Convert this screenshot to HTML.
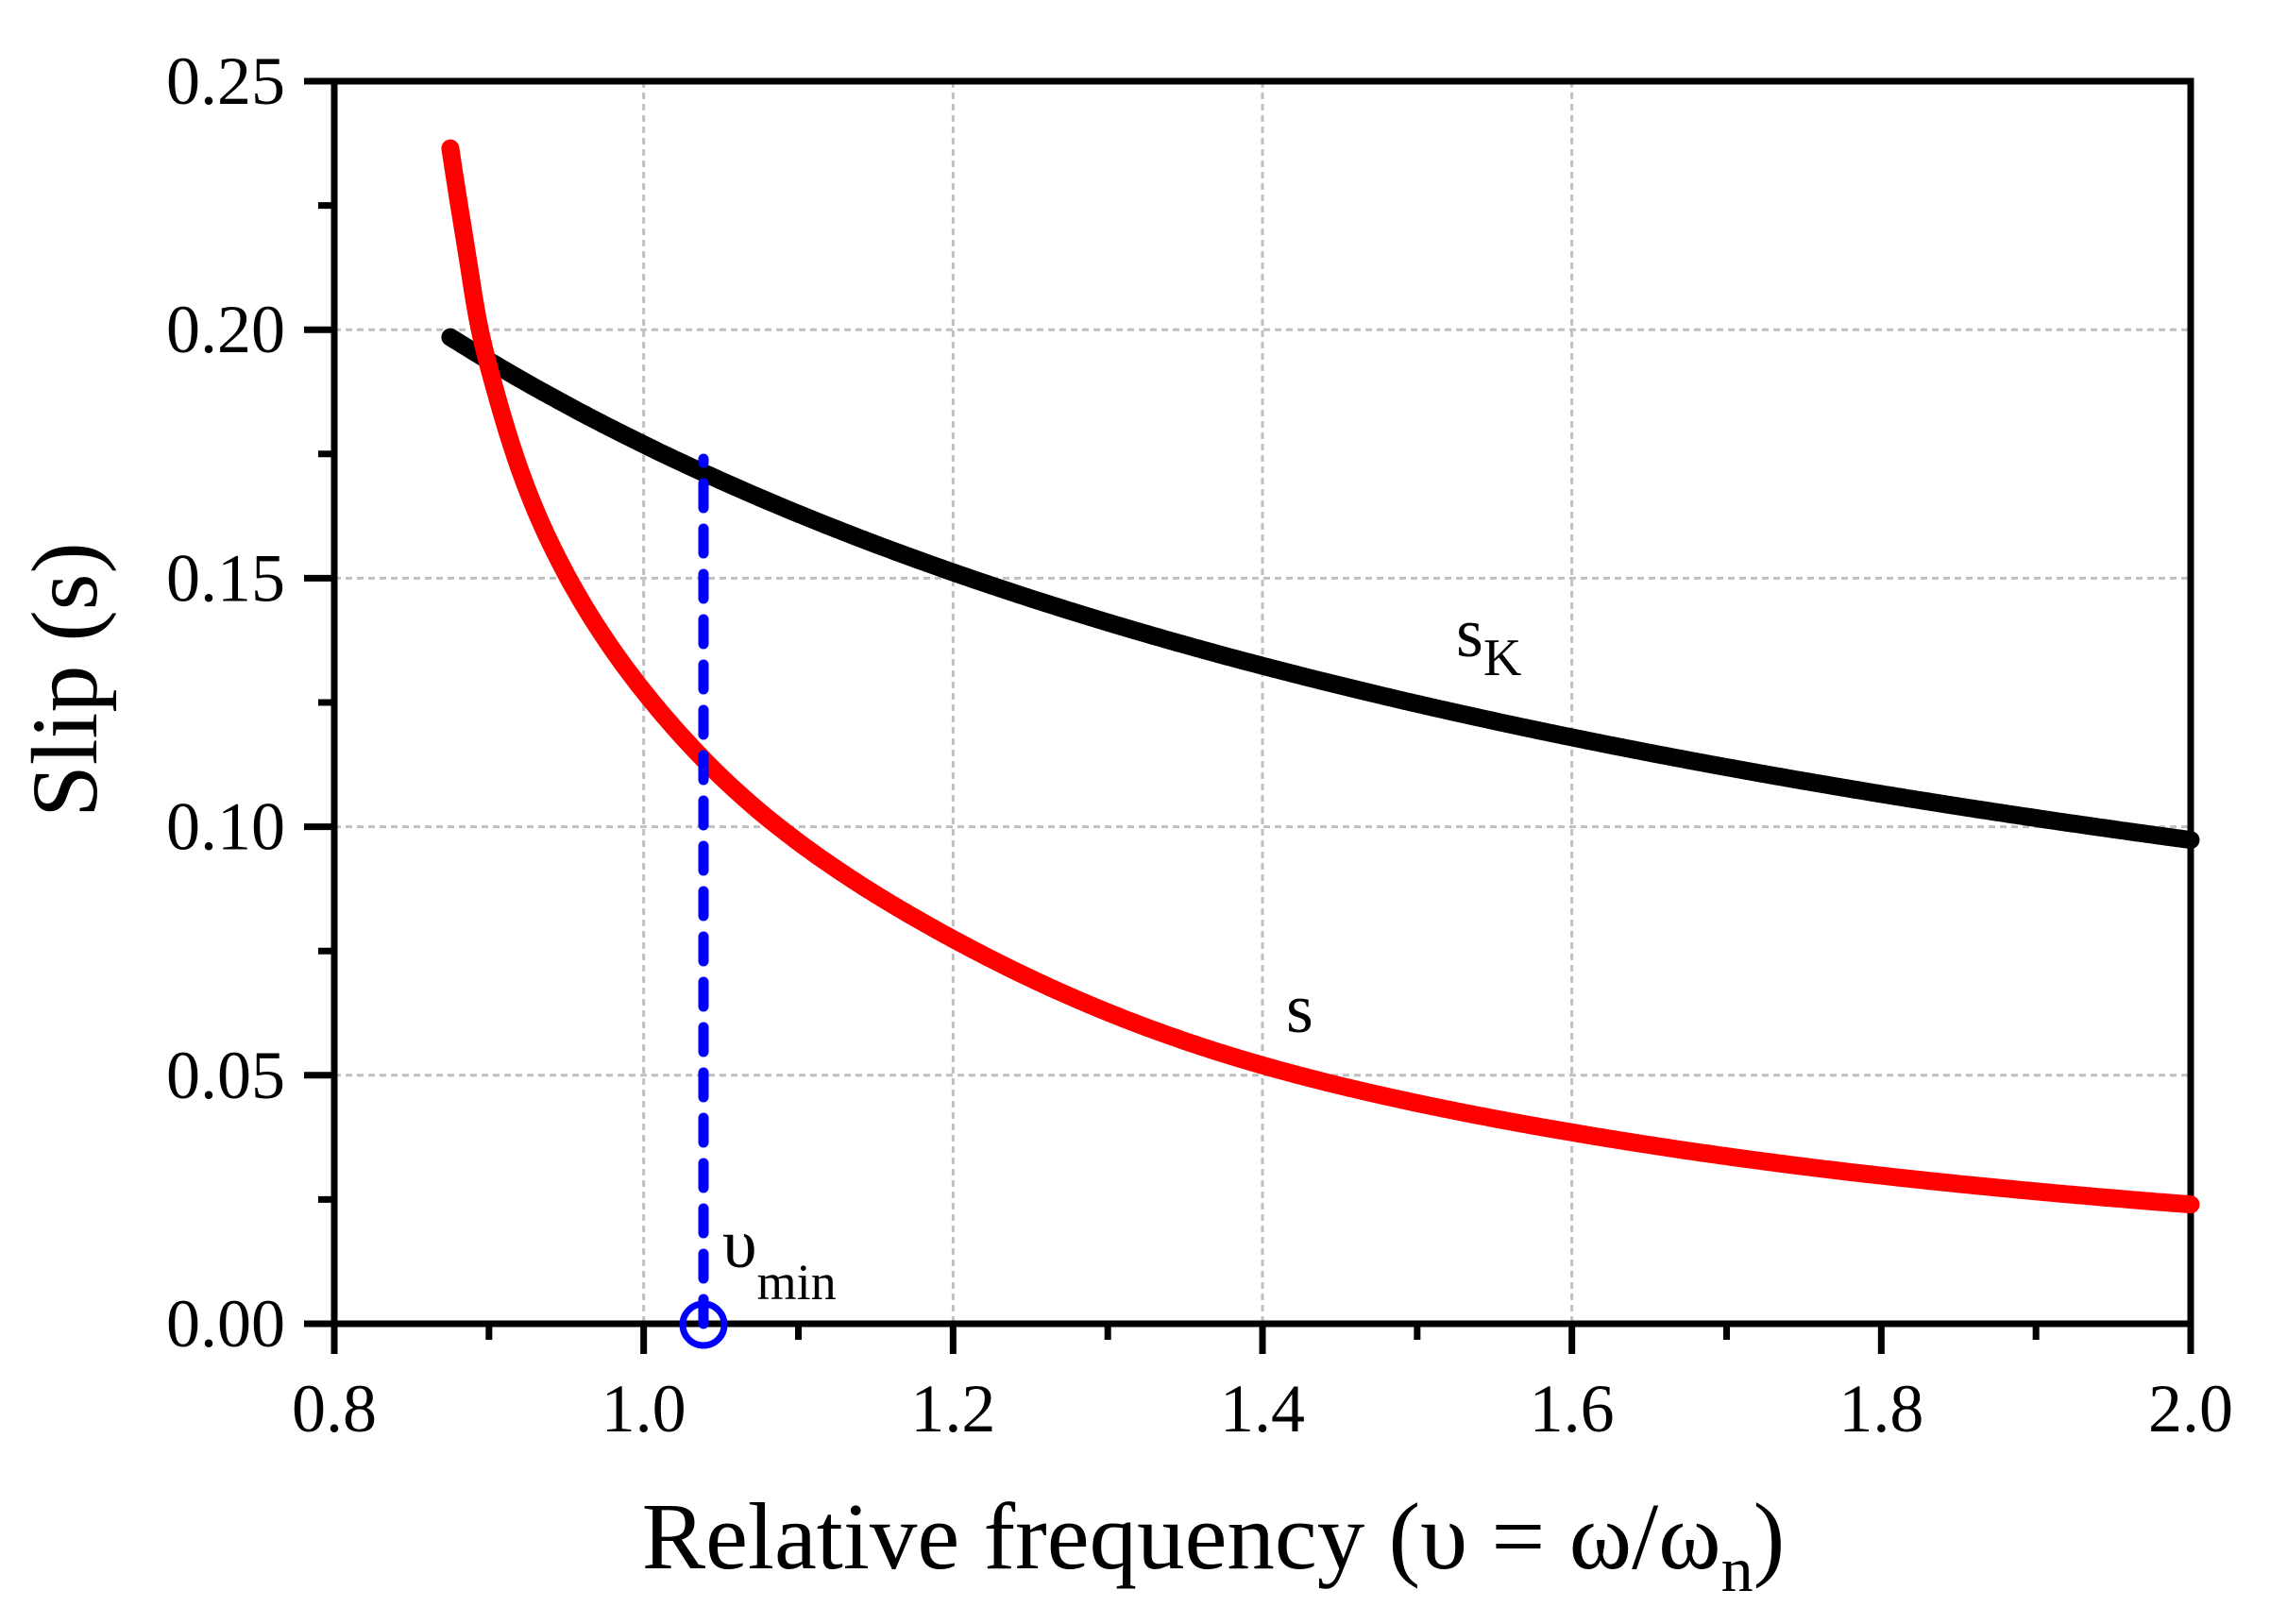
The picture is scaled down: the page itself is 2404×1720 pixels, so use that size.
<!DOCTYPE html>
<html><head><meta charset="utf-8"><style>
html,body{margin:0;padding:0;background:#fff;}
svg{display:block;}
text{font-family:"Liberation Serif",serif;fill:#000;}
</style></head><body>
<svg id="s" width="2404" height="1720" viewBox="0 0 2404 1720" xmlns="http://www.w3.org/2000/svg">
<g id="grid" stroke="#c0c0c0" stroke-width="3" stroke-dasharray="7,5"></g>
<g id="ticks" stroke="#000" stroke-width="7"></g>
<rect x="354" y="86" width="1966" height="1316" fill="none" stroke="#000" stroke-width="7"/>
<path id="black" fill="none" stroke="#000" stroke-width="19" stroke-linecap="round" stroke-linejoin="round"/>
<path id="red" fill="none" stroke="#ff0000" stroke-width="19" stroke-linecap="round" stroke-linejoin="round"/>
<line x1="745" y1="1402" x2="745" y2="486" stroke="#0000ff" stroke-width="11" stroke-dasharray="26,22" stroke-linecap="round"/>
<circle cx="745" cy="1403" r="22" fill="none" stroke="#0000ff" stroke-width="7"/>
<g id="labels" font-size="72"></g>
<text x="1542" y="695" font-size="74">s<tspan font-size="56" dy="20">K</tspan></text>
<text x="1362" y="1093" font-size="74">s</text>
<text x="765" y="1342" font-size="74">υ<tspan font-size="54" dy="34">min</tspan></text>
<text x="1285" y="1661" font-size="101" text-anchor="middle">Relative frequency (υ = ω/ω<tspan font-size="68" dy="24">n</tspan><tspan dy="-24">)</tspan></text>
<text transform="translate(102,720) rotate(-90)" font-size="100" text-anchor="middle">Slip (s)</text>
</svg>
<script>
var NS="http://www.w3.org/2000/svg";
function X(v){return 354+(v-0.8)/1.2*1966;}
function Y(s){return 1402-s/0.25*1316;}
function el(p,t,a,txt){var e=document.createElementNS(NS,t);for(var k in a)e.setAttribute(k,a[k]);if(txt!==undefined)e.textContent=txt;document.getElementById(p).appendChild(e);}
for(var i=1;i<=4;i++){var v=0.8+0.2*i;el("grid","line",{x1:X(v),x2:X(v),y1:86,y2:1402});}
for(var i=1;i<=4;i++){var s=0.05*i;el("grid","line",{x1:354,x2:2320,y1:Y(s),y2:Y(s)});}
for(var i=0;i<=12;i++){var v=0.8+0.1*i;var L=(i%2==0)?32:17;el("ticks","line",{x1:X(v),x2:X(v),y1:1402,y2:1402+L});
 if(i%2==0)el("labels","text",{x:X(v),y:1516,"text-anchor":"middle"},v.toFixed(1));}
for(var i=0;i<=10;i++){var s=0.025*i;var L=(i%2==0)?32:17;el("ticks","line",{x1:354-L,x2:354,y1:Y(s),y2:Y(s)});
 if(i%2==0)el("labels","text",{x:302,y:Y(s)+24,"text-anchor":"end"},s.toFixed(2));}
var pts=[[0.875,.2365],[0.885,.2168],[0.8935,.2009],[0.9038,.1881],[0.9208,.1711],[0.941,.1562],[1.037,.1141],[1.2,.0774],[1.4,.052],[1.6,.0385],[1.8,.0298],[2.0,.024]];
var tx=pts.map(function(p){return Math.log(p[0]-0.6);}), ty=pts.map(function(p){return Math.log(p[1]);});
var n=tx.length, dl=[], m=[];
for(var i=0;i<n-1;i++)dl.push((ty[i+1]-ty[i])/(tx[i+1]-tx[i]));
m[0]=dl[0];m[n-1]=dl[n-2];
for(var i=1;i<n-1;i++){m[i]=(dl[i-1]*dl[i]<=0)?0:(dl[i-1]+dl[i])/2;}
function f(v){var t=Math.log(v-0.6);var i=0;while(i<n-2&&t>tx[i+1])i++;
 var h=tx[i+1]-tx[i],u=(t-tx[i])/h,u2=u*u,u3=u2*u;
 var y=(2*u3-3*u2+1)*ty[i]+(u3-2*u2+u)*h*m[i]+(-2*u3+3*u2)*ty[i+1]+(u3-u2)*h*m[i+1];
 return Math.exp(y);}
var b="",r="";
for(var v=0.875;v<=2.0001;v+=0.0025){
 var sk=0.1985*Math.pow(0.875/v,0.862);
 b+=(b?"L":"M")+X(v).toFixed(1)+","+Y(sk).toFixed(1);
 var vv=Math.min(v,2.0);
 r+=(r?"L":"M")+X(vv).toFixed(1)+","+Y(f(vv)).toFixed(1);
}
document.getElementById("black").setAttribute("d",b);
document.getElementById("red").setAttribute("d",r);
</script>
</body></html>
